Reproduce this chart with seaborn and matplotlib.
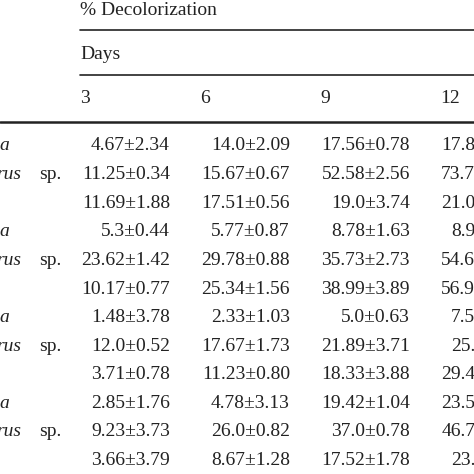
import matplotlib
matplotlib.use("Agg")
import matplotlib.pyplot as plt
import seaborn as sns

sns.set_theme(style="white")
plt.rcParams['font.family'] = ['Liberation Serif', 'DejaVu Serif']

days = ["3", "6", "9", "12"]
row_labels = ["a", "rus", "", "a", "rus", "", "a", "rus", "", "a", "rus", ""]
col3 = ["4.67±2.34", "11.25±0.34", "11.69±1.88", "5.3±0.44", "23.62±1.42", "10.17±0.77",
        "1.48±3.78", "12.0±0.52", "3.71±0.78", "2.85±1.76", "9.23±3.73", "3.66±3.79"]
col6 = ["14.0±2.09", "15.67±0.67", "17.51±0.56", "5.77±0.87", "29.78±0.88", "25.34±1.56",
        "2.33±1.03", "17.67±1.73", "11.23±0.80", "4.78±3.13", "26.0±0.82", "8.67±1.28"]
col9 = ["17.56±0.78", "52.58±2.56", "19.0±3.74", "8.78±1.63", "35.73±2.73", "38.99±3.89",
        "5.0±0.63", "21.89±3.71", "18.33±3.88", "19.42±1.04", "37.0±0.78", "17.52±1.78"]
col12 = ["17.89±1.23", "73.78±1.23", "21.04±1.23", "8.93±1.23", "54.67±1.23", "56.93±1.23",
         "7.56±1.23", "25.1±1.23", "29.44±1.23", "23.56±1.23", "46.78±1.23", "23.1±1.23"]

fig = plt.figure(figsize=(4.74, 4.74), dpi=100)
ax = fig.add_axes([0, 0, 1, 1])
ax.set_xlim(0, 474)
ax.set_ylim(474, 0)
ax.axis("off")
fs = 14
c = "#222222"

ax.text(80, 10, "% Decolorization", fontsize=fs, va="center", color=c)
ax.plot([80, 474], [30, 30], color=c, lw=1.2)
ax.text(80, 54, "Days", fontsize=fs, va="center", color=c)
ax.plot([80, 474], [75, 75], color=c, lw=1.2)
for x, d in zip([80, 200, 320, 440], days):
    ax.text(x, 98, d, fontsize=fs, va="center", color=c)
ax.plot([0, 474], [122, 122], color=c, lw=1.8)

rights = [170, 290, 410, 530]
for i in range(12):
    y = 146 + i * 28.6
    lab = row_labels[i]
    if lab == "a":
        ax.text(-1, y, "a", fontsize=fs, style="italic", va="center", color=c)
    elif lab == "rus":
        ax.text(-4, y, "rus", fontsize=fs, style="italic", va="center", color=c)
        ax.text(39, y, "sp.", fontsize=fs, va="center", color=c)
    for x, col in zip(rights, [col3, col6, col9, col12]):
        ax.text(x, y, col[i], fontsize=fs, ha="right", va="center", color=c)

fig.savefig("out.png", dpi=100)
